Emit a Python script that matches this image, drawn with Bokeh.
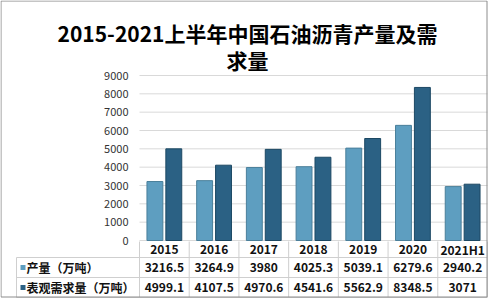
from bokeh.plotting import figure
from bokeh.models import Range1d
from bokeh.core.properties import value
from bokeh.embed import file_html
from bokeh.resources import INLINE

# ---- data ----
title_text = "2015-2021上半年中国石油沥青产量及需求量"
categories = ["2015", "2016", "2017", "2018", "2019", "2020", "2021H1"]
series_names = ["产量（万吨）", "表观需求量（万吨）"]
production = [3216.5, 3264.9, 3980, 4025.3, 5039.1, 6279.6, 2940.2]
demand = [4999.1, 4107.5, 4970.6, 4541.6, 5562.9, 8348.5, 3071]
y_ticks = [0, 1000, 2000, 3000, 4000, 5000, 6000, 7000, 8000, 9000]
y_tick_labels = [str(t) for t in y_ticks]

# ---- layout constants ----
W, H = 489, 298
PLOT_L = 139            # px where category area starts
N = len(categories)
CW = 348 / N            # px per category
ZERO_PX = 240           # px of value 0
K = 165 / 9000          # px per unit value
FONT = value("Noto Sans CJK SC")
LIGHT = "#5e9ec0"
LIGHT_LINE = "#4a7f9a"
DARK = "#2b6184"
DARK_LINE = "#1c4863"
BORDER = "#cfcfcf"


def px2x(px):
    return (px - PLOT_L) / CW


p = figure(width=W, height=H, output_backend="svg", toolbar_location=None,
           x_range=Range1d(-PLOT_L / CW, (W - PLOT_L) / CW),
           y_range=Range1d(-(H - ZERO_PX) / K, ZERO_PX / K),
           x_axis_location=None, y_axis_location=None, min_border=0)
p.grid.visible = False
p.outline_line_color = None
p.background_fill_color = "white"
p.border_fill_color = "white"
p.extra_y_ranges = {"py": Range1d(H, 0)}

centers = [i + 0.5 for i in range(N)]

# gridlines
p.segment(x0=0, x1=N, y0=y_ticks, y1=y_ticks, line_color="#d9d9d9", line_width=1)

# y tick labels
p.text(x=px2x(128), y=y_ticks, text=y_tick_labels, text_font=FONT,
       text_font_size="11px", text_color="#333333", text_align="right",
       text_baseline="middle")

# bars
p.vbar(x=[c - 0.19 for c in centers], width=0.32, top=production, bottom=0,
       fill_color=LIGHT, line_color=LIGHT_LINE, line_width=1)
p.vbar(x=[c + 0.19 for c in centers], width=0.32, top=demand, bottom=0,
       fill_color=DARK, line_color=DARK_LINE, line_width=1)

# title
lines = [title_text[:-2], title_text[-2:]]
p.text(x=px2x(247), y=[32, 59], text=lines, y_range_name="py", text_font=FONT,
       text_font_size="21px", text_font_style="bold", text_color="black",
       text_align="center", text_baseline="middle")

# table grid
LEFT = px2x(16)
row_lines = [257, 277, 297]
p.segment(x0=LEFT, x1=N, y0=row_lines, y1=row_lines, y_range_name="py",
          line_color=BORDER, line_width=1)
p.segment(x0=list(range(N + 1)), x1=list(range(N + 1)), y0=241, y1=297,
          y_range_name="py", line_color=BORDER, line_width=1)
p.segment(x0=[LEFT], x1=[LEFT], y0=257, y1=297, y_range_name="py",
          line_color=BORDER, line_width=1)

# table text
p.text(x=centers, y=249, text=categories, y_range_name="py", text_font=FONT,
       text_font_size="12px", text_font_style="bold", text_color="#111111",
       text_align="center", text_baseline="middle")
row_y = [267, 287]
for vals, ry in zip([production, demand], row_y):
    p.text(x=centers, y=ry, text=[f"{v:g}" for v in vals], y_range_name="py",
           text_font=FONT, text_font_size="12px", text_font_style="bold",
           text_color="#111111", text_align="center", text_baseline="middle")

# row labels with legend squares
p.scatter(x=px2x(22.5), y=row_y, marker="square", size=5,
          fill_color=[LIGHT, DARK], line_color=None, y_range_name="py")
p.text(x=px2x(26), y=row_y, text=series_names, y_range_name="py",
       text_font=FONT, text_font_size="12px", text_font_style="bold",
       text_color="#111111", text_align="left", text_baseline="middle")

# outer border
p.quad(left=px2x(0.5), right=px2x(486.5), top=0.5, bottom=296.5,
       y_range_name="py", fill_color=None, line_color="#8c8c8c", line_width=1)

open("out.html", "w").write(file_html(p, INLINE))
